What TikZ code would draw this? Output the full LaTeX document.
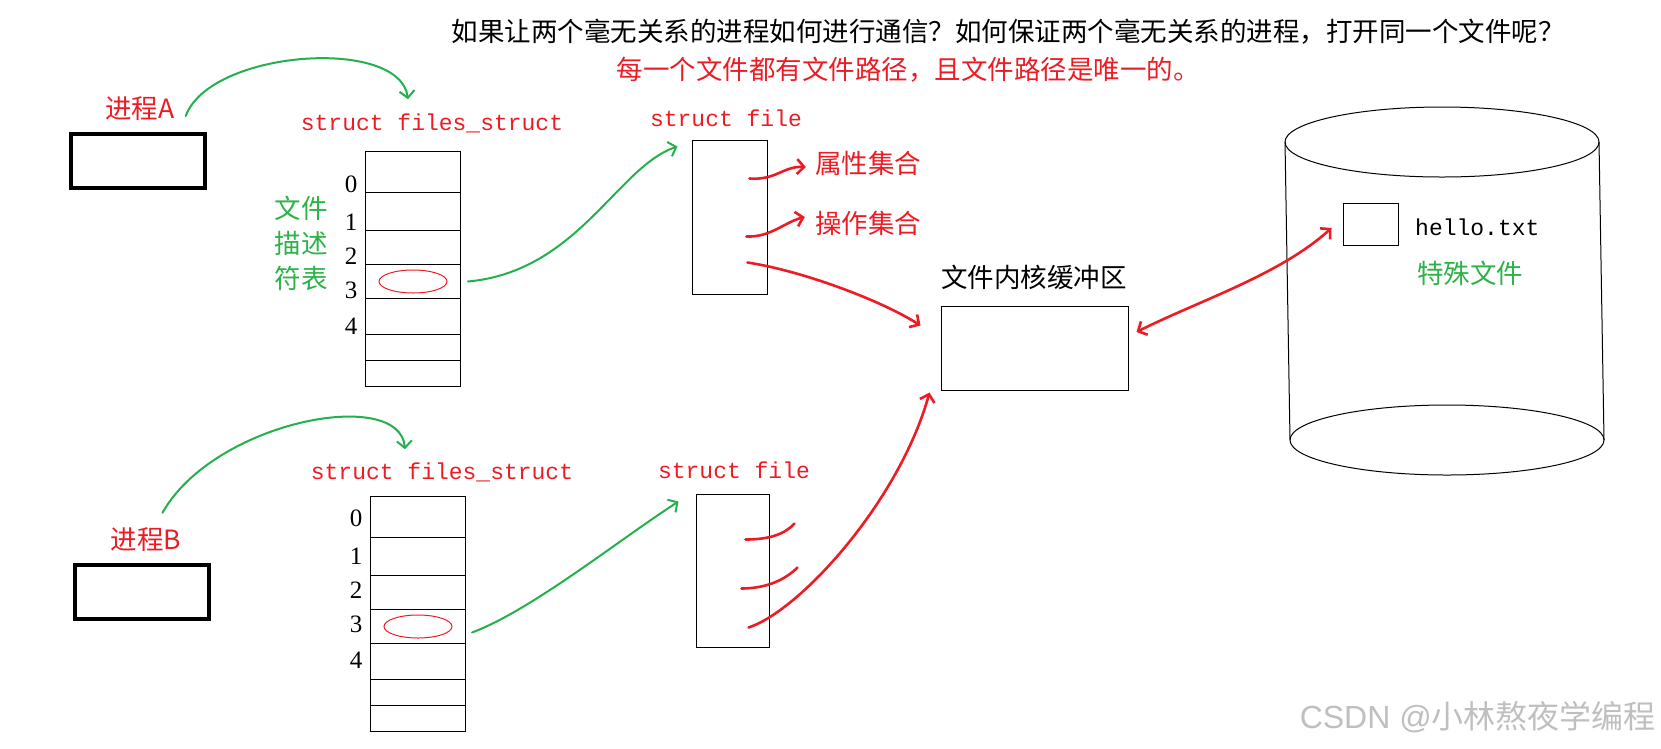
\documentclass[tikz,border=0pt]{standalone}
\usepackage{fontspec}
\setmainfont{Liberation Serif}
\setmonofont{Liberation Mono}
\newfontfamily\cjk{Noto Sans CJK SC}
\newfontfamily\wmark{Liberation Sans}
\usetikzlibrary{arrows.meta, positioning, shapes.geometric, calc}
\definecolor{penRed}{RGB}{237,28,36}
\definecolor{penGreen}{RGB}{34,177,76}
\definecolor{inkGreen}{RGB}{44,178,72}
\tikzset{
    procBox/.style={rectangle, draw=black, line width=3.5pt, inner sep=0pt, minimum width=134pt, minimum height=54pt},
    fdRow/.style={rectangle, draw=black, line width=1pt, inner sep=0pt, minimum width=95pt, anchor=north west},
    fdMark/.style={ellipse, draw=penRed, line width=1pt, inner sep=0pt, minimum width=68pt, minimum height=23pt},
    plainBox/.style={rectangle, draw=black, line width=1pt, inner sep=0pt},
    cnTxt/.style={font=\cjk\fontsize{26.5}{35}\selectfont, inner sep=0pt},
    redTxt/.style={cnTxt, text=penRed},
    greenTxt/.style={cnTxt, text=inkGreen},
    codeTxt/.style={font=\ttfamily\fontsize{23}{28}\selectfont, inner sep=0pt},
    idxTxt/.style={font=\fontsize{25}{30}\selectfont, inner sep=0pt},
    penArrow/.style={-{Straight Barb[length=7pt, width=15pt]}, line cap=round},
    greenArrow/.style={penArrow, draw=penGreen, line width=2pt},
    redArrow/.style={penArrow, draw=penRed, line width=2.6pt},
    redStroke/.style={draw=penRed, line width=2.6pt, line cap=round},
    cylLine/.style={draw=black, line width=1pt}
}

\begin{document}
\begin{tikzpicture}[x=1pt, y=-1pt]

        \useasboundingbox (0,0) rectangle (1661,748);

        % --- Custom Macro for the fd table ---
        % #1 = Name, #2 = Left x, #3 = Top y, #4 = Index lift
        \newcommand{\drawFdTable}[4]{
            % Rows of the table
            \foreach \top/\h [count=\i from 0] in {0/41, 41/38, 79/34, 113/34, 147/36, 183/26, 209/26} {
                \node[fdRow, minimum height=\h pt] (#1r\i) at (#2, #3+\top) {};
            }
            % Index numbers left of the rows
            \foreach \n in {0,...,4} {
                \node[idxTxt] at ($(#1r\n.south west)+(-14,-#4)$) {\n};
            }
            % Marked descriptor
            \node[fdMark] (#1fd) at (#1r3) {};
        }

        % Headings
        \node[cnTxt] (title) at (1008,32) {如果让两个毫无关系的进程如何进行通信？如何保证两个毫无关系的进程，打开同一个文件呢？};
        \node[redTxt] (note) at (908,70) {每一个文件都有文件路径，且文件路径是唯一的。};

        % Processes
        \node[redTxt] (lblA) at (140,109) {进程A};
        \node[procBox] (procA) at (138,161) {};
        \node[redTxt] (lblB) at (146,540) {进程B};
        \node[procBox] (procB) at (142,592) {};

        % File descriptor tables
        \node[codeTxt, text=penRed] (fsLblA) at (432,123) {struct files\_struct};
        \node[codeTxt, text=penRed] (fsLblB) at (442,472) {struct files\_struct};
        \drawFdTable{tblA}{365}{151}{9}
        \drawFdTable{tblB}{370}{496}{20}
        \node[greenTxt, align=center] (fdLbl) at (301,243) {文件\\描述\\符表};

        % struct file
        \node[codeTxt, text=penRed] (fileLblA) at (726,118) {struct file};
        \node[plainBox, minimum width=75pt, minimum height=154pt] (fileA) at (729.5,217) {};
        \node[codeTxt, text=penRed] (fileLblB) at (734,470) {struct file};
        \node[plainBox, minimum width=73pt, minimum height=153pt] (fileB) at (732.5,570.5) {};
        \node[redTxt] (attrs) at (868,163) {属性集合};
        \node[redTxt] (ops) at (868,223) {操作集合};

        % Kernel buffer
        \node[cnTxt] (bufLbl) at (1034,277) {文件内核缓冲区};
        \node[plainBox, minimum width=187pt, minimum height=84pt] (buf) at (1034.5,348) {};

        % Disk
        \draw[cylLine] (1442,142) ellipse [x radius=157, y radius=35];
        \draw[cylLine] (1447,440) ellipse [x radius=157, y radius=35];
        \draw[cylLine] (1285,142) -- (1290,440);
        \draw[cylLine] (1599,142) -- (1604,440);
        \node[plainBox, minimum width=55pt, minimum height=42pt] (hello) at (1370.5,224) {};
        \node[codeTxt, anchor=west] (helloLbl) at (1415,227) {hello.txt};
        \node[greenTxt] (special) at (1470,273) {特殊文件};

        % Process -> table
        \draw[greenArrow] ($(lblA.east)+(11,7)$) .. controls +(24,-66) and +(-8,-63) .. ($(fsLblA.north)+(-24,-14)$);
        \draw[greenArrow] ($(lblB.north east)+(-19,-15)$) .. controls +(52,-92) and +(-5,-63) .. ($(fsLblB.north)+(-37,-13)$);

        % Table -> struct file
        \draw[greenArrow] ($(tblAr3.east)+(7,0)$) .. controls +(110,-10) and +(-60,20) .. ($(fileA.north west)+(-14,7)$);
        \draw[greenArrow] ($(tblBr3.east)+(6,6)$) .. controls +(59,-22) and +(-59,38) .. ($(fileB.north west)+(-17,8)$);

        % struct file members
        \draw[redArrow] ($(fileA.north east)+(-18,39)$) .. controls +(26,2) and +(-22,-1) .. ($(attrs.west)+(-9,4)$);
        \draw[redArrow] ($(fileA.north east)+(-21,97)$) .. controls +(24,1) and +(-20,5) .. ($(ops.west)+(-10,-6)$);
        \draw[redStroke] ($(fileB.north east)+(-24,46)$) .. controls +(25,0) and +(-9,10) .. ($(fileB.north east)+(25,30)$);
        \draw[redStroke] ($(fileB.north east)+(-28,95)$) .. controls +(25,0) and +(-12,12) .. ($(fileB.north east)+(28,74)$);

        % struct file -> buffer
        \draw[redArrow] ($(fileA.south east)+(-20,-32)$) .. controls +(53,8) and +(-41,-26) .. ($(buf.north west)+(-20,20)$);
        \draw[redArrow] ($(fileB.south east)+(-21,-20)$) .. controls +(52,-17) and +(-30,108) .. ($(buf.south west)+(-11,2)$);

        % Buffer <-> disk file
        \draw[redArrow, {Straight Barb[length=7pt, width=15pt]}-{Straight Barb[length=7pt, width=15pt]}] ($(buf.east)+(8,-16)$) .. controls +(64,-32) and +(-52,47) .. ($(hello.west)+(-11,4)$);

        % Watermark
        \node[font=\cjk\fontsize{32}{38}\selectfont, text=black!25, inner sep=0pt, anchor=east] (mark) at (1656,717) {{\wmark CSDN @}小林熬夜学编程};

\end{tikzpicture}
\end{document}
